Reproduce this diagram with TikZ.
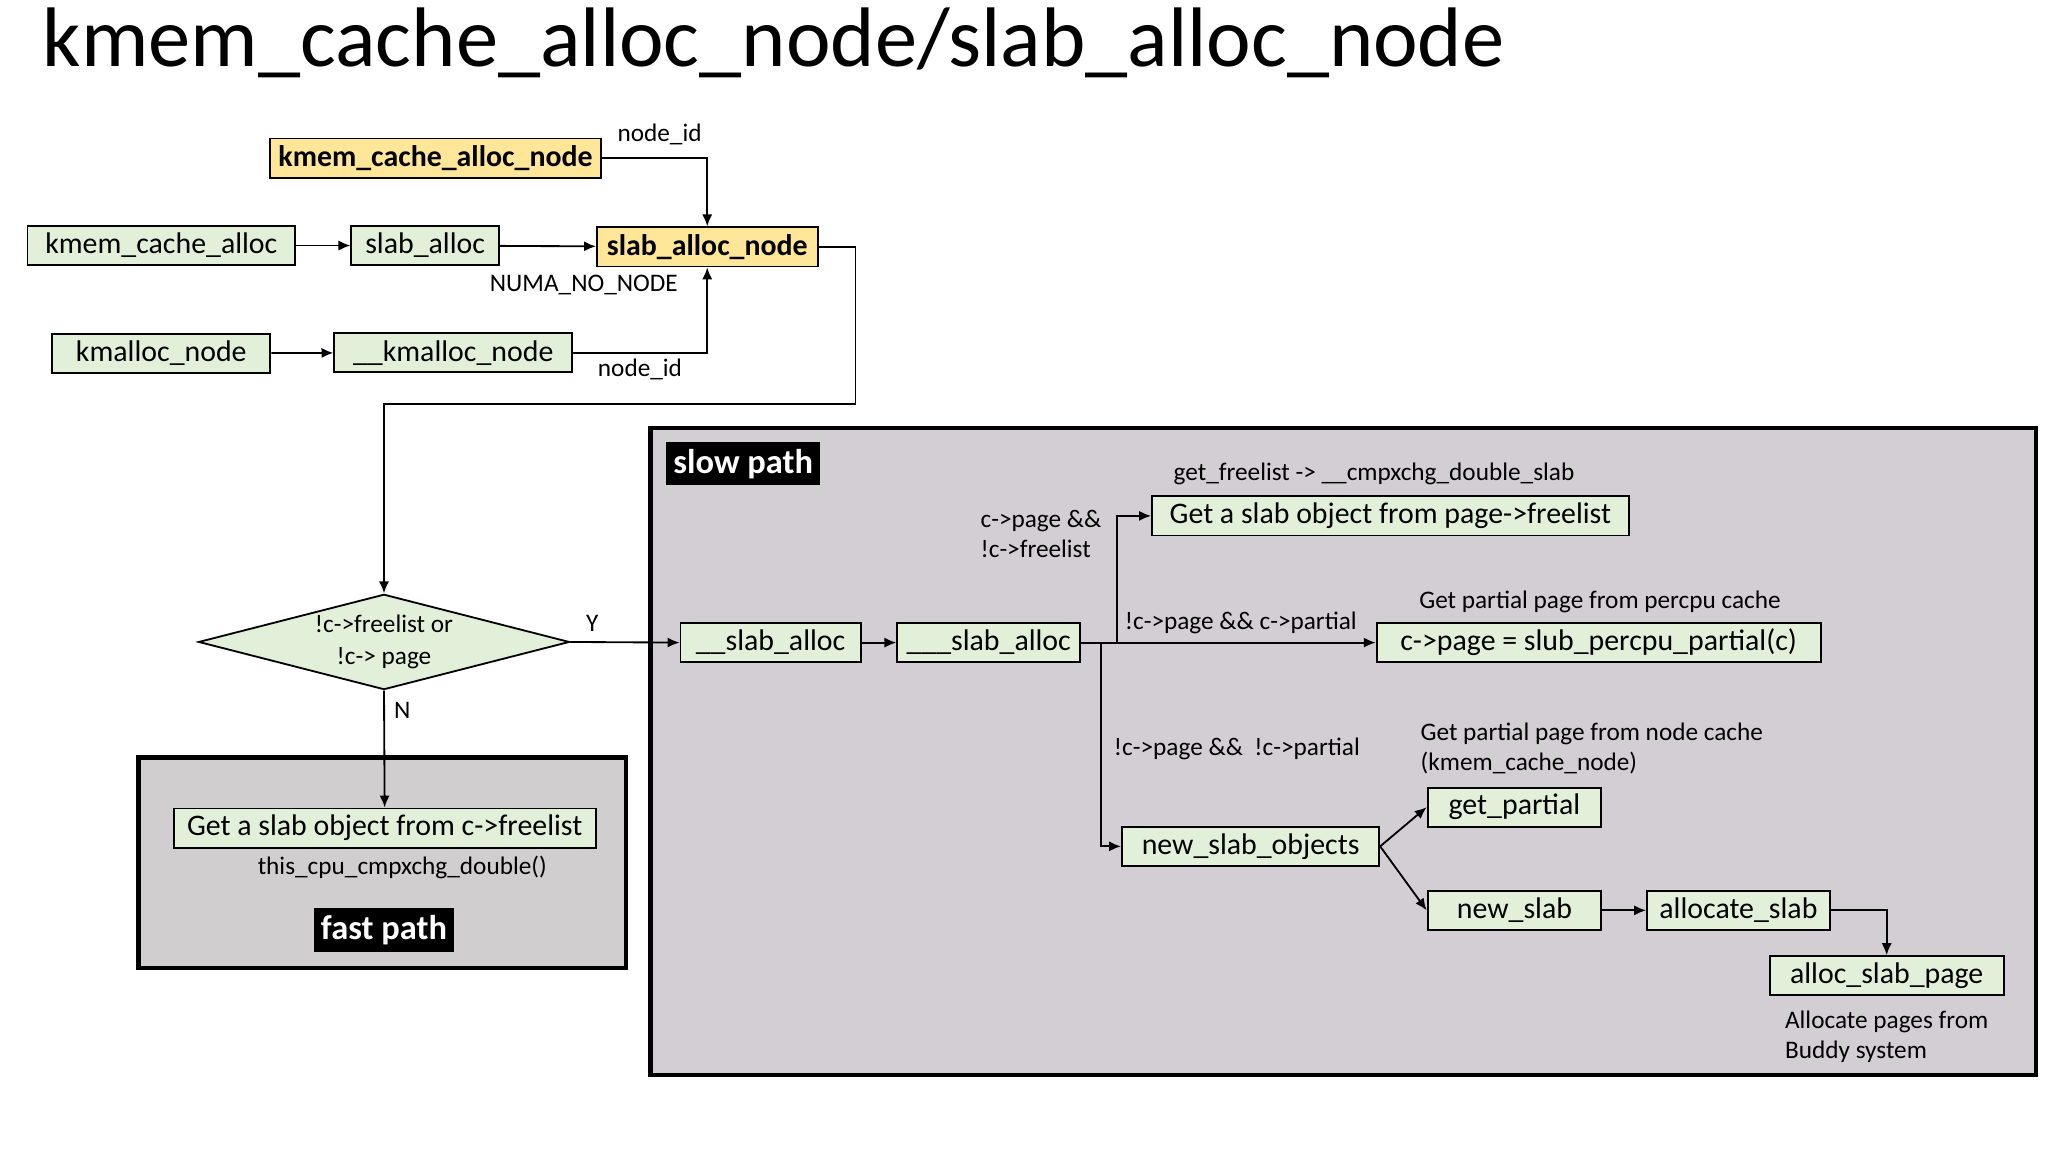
\documentclass[tikz,border=0pt]{standalone}
\usepackage{fontspec}
\setmainfont{Carlito}
\usetikzlibrary{arrows.meta,shapes.geometric}
\definecolor{boxgreen}{HTML}{E2F0D9}
\definecolor{boxyellow}{HTML}{FFE699}
\definecolor{pathgray}{HTML}{D0CECE}
\definecolor{slowgray}{HTML}{D2CED3}
\tikzset{
  fn/.style={draw, fill=boxgreen, line width=0.4pt, inner sep=0pt, minimum height=30*0.01cm,
    font=\fontsize{6.5}{7.5}\selectfont},
  key/.style={fn, fill=boxyellow, font=\bfseries\fontsize{6.5}{7.5}\selectfont},
  lbl/.style={inner sep=0pt, font=\fontsize{5.5}{6.6}\selectfont, align=left},
  tag/.style={fill=black, text=white, inner sep=1.5pt, font=\bfseries\fontsize{7.5}{8}\selectfont},
  arr/.style={-{Latex[length=2.6pt,width=2.2pt]}, line width=0.4pt},
  region/.style={draw, fill=pathgray, line width=0.9pt}
}
\begin{document}
\begin{tikzpicture}[x=0.01cm,y=-0.01cm]
\useasboundingbox (0,0) rectangle (1568,882);
\node[anchor=west, inner sep=0pt, font=\fontsize{18.4}{21}\selectfont] (title) at (32,33) {kmem\_cache\_alloc\_node/slab\_alloc\_node};

% background regions
\node[region, minimum width=373*0.01cm, minimum height=161*0.01cm, inner sep=0pt] (fast) at (292.5,660.5) {};
\node[region, fill=slowgray, minimum width=1061*0.01cm, minimum height=495*0.01cm, inner sep=0pt] (slow) at (1028.5,575.5) {};

% entry points
\node[key, minimum width=253*0.01cm] (kcan) at (333.5,121) {kmem\_cache\_alloc\_node};
\node[fn, minimum width=205*0.01cm] (kca) at (123.5,188) {kmem\_cache\_alloc};
\node[fn, minimum width=113*0.01cm] (sa) at (325.5,188) {slab\_alloc};
\node[key, minimum width=169*0.01cm] (san) at (541.5,189) {slab\_alloc\_node};
\node[fn, minimum width=167*0.01cm] (kn) at (123.5,270.5) {kmalloc\_node};
\node[fn, minimum width=182*0.01cm] (kkn) at (347,270) {\_\_kmalloc\_node};
\node[lbl] (l1) at (505,103) {node\_id};
\node[lbl] (l2) at (447,218) {NUMA\_NO\_NODE};
\node[lbl] (l3) at (490,283) {node\_id};

\draw[arr] (kca) -- (sa);
\draw[arr] (sa) -- (san);
\draw[arr] (kn) -- (kkn);
\draw[arr] (kcan.east) -| (san.north);
\draw[arr] (kkn.east) -| (san.south);

% decision
\node[diamond, draw, fill=boxgreen, line width=0.4pt, inner sep=0pt, aspect=3.9,
  minimum width=284*0.01cm, minimum height=73*0.01cm, align=center,
  font=\fontsize{5.5}{7}\selectfont] (dec) at (294,491.5) {!c->freelist or\\!c-> page};
\coordinate (c1) at (655,189);
\coordinate (c2) at (655,309);
\draw[arr] (san.east) -- (c1) -- (c2) -| (dec.north);

% fast path
\node[fn, minimum width=323*0.01cm] (gfl) at (294.5,634) {Get a slab object from c->freelist};
\node[lbl] (l4) at (308,664) {this\_cpu\_cmpxchg\_double()};
\node[tag] (fp) at (294,712) {fast path};
\draw[arr] (dec.south) -- (gfl.north) node[lbl, pos=0.17, right=2pt] {N};

% slow path
\node[tag] (sp) at (569,355) {slow path};
\node[fn, minimum width=138*0.01cm] (usa) at (590,492) {\_\_slab\_alloc};
\node[fn, minimum width=140*0.01cm] (uusa) at (757,492) {\_\_\_slab\_alloc};
\draw[arr] (dec.east) -- (usa.west) node[lbl, pos=0.2, above=2pt] {Y};
\draw[arr] (usa) -- (uusa);

\node[fn, minimum width=365*0.01cm] (gpf) at (1064.5,395) {Get a slab object from page->freelist};
\node[fn, minimum width=340*0.01cm] (cpp) at (1224,492) {c->page = slub\_percpu\_partial(c)};
\node[fn, minimum width=197*0.01cm] (nso) at (957.5,648) {new\_slab\_objects};
\node[fn, minimum width=133*0.01cm] (gp) at (1159.5,618) {get\_partial};
\node[fn, minimum width=133*0.01cm] (ns) at (1159.5,697) {new\_slab};
\node[fn, minimum width=140*0.01cm] (as) at (1331,697) {allocate\_slab};
\node[fn, minimum width=179*0.01cm] (asp) at (1444.5,747) {alloc\_slab\_page};

\coordinate (b1) at (843,492);
\coordinate (b2) at (855,492);
\draw[line width=0.4pt] (uusa.east) -- (b1);
\draw[arr] (b2) |- (gpf.west);
\draw[arr] (b1) -- (cpp.west);
\draw[arr] (b1) |- (nso.west);
\draw[arr] (nso.east) -- (gp.west);
\draw[arr] (nso.east) -- (ns.west);
\draw[arr] (ns) -- (as);
\draw[arr] (as.east) -| (asp.north);

\node[lbl] (l5) at (1052,363) {get\_freelist -> \_\_cmpxchg\_double\_slab};
\node[lbl, align=left] (l6) at (797,409) {c->page \&\&\\!c->freelist};
\node[lbl] (l7) at (950,477) {!c->page \&\& c->partial};
\node[lbl] (l8) at (1225,461) {Get partial page from percpu cache};
\node[lbl] (l9) at (947,573) {!c->page \&\& \ !c->partial};
\node[lbl, anchor=west] (l10) at (1087,573) {Get partial page from node cache\\(kmem\_cache\_node)};
\node[lbl, anchor=west] (l11) at (1366,794) {Allocate pages from\\Buddy system};
\end{tikzpicture}
\end{document}
